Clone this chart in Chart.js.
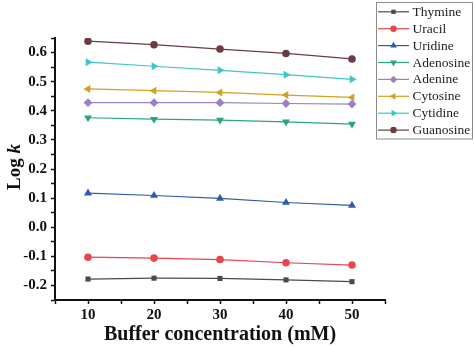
<!DOCTYPE html>
<html>
<head>
<meta charset="utf-8">
<script src="https://cdn.jsdelivr.net/npm/chart.js@4.4.1/dist/chart.umd.min.js"></script>
<style>
  html, body { margin:0; padding:0; background:#fff; }
  canvas { display:block; }
</style>
</head>
<body>
<canvas id="c" width="474" height="347"></canvas>
<script>
// buffer concentration (mM)
const concentrations = [10, 20, 30, 40, 50];

// Log k values per analyte
const thymine   = [-0.178, -0.175, -0.176, -0.181, -0.187];
const uracil    = [-0.103, -0.106, -0.111, -0.122, -0.130];
const uridine   = [0.117, 0.109, 0.099, 0.085, 0.075];
const adenosine = [0.376, 0.371, 0.368, 0.362, 0.354];
const adenine   = [0.428, 0.428, 0.428, 0.425, 0.423];
const cytosine  = [0.475, 0.469, 0.463, 0.454, 0.446];
const cytidine  = [0.567, 0.553, 0.539, 0.524, 0.508];
const guanosine = [0.639, 0.627, 0.612, 0.597, 0.578];

const xTicks = [10, 20, 30, 40, 50];
const yTicks = [-0.2, -0.1, 0.0, 0.1, 0.2, 0.3, 0.4, 0.5, 0.6];

const FONT = '"Liberation Serif", "Times New Roman", serif';

const series = [
  { label: "Thymine",   data: thymine,   color: "#4a4a4a", style: "rect",     rot: 0,   r: 3.6 },
  { label: "Uracil",    data: uracil,    color: "#e8454e", style: "circle",   rot: 0,   r: 3.8 },
  { label: "Uridine",   data: uridine,   color: "#2f5ca8", style: "triangle", rot: 0,   r: 4.6 },
  { label: "Adenosine", data: adenosine, color: "#2aa77a", style: "triangle", rot: 180, r: 4.6 },
  { label: "Adenine",   data: adenine,   color: "#9a80c4", style: "rectRot",  rot: 0,   r: 4.4 },
  { label: "Cytosine",  data: cytosine,  color: "#d2a024", style: "triangle", rot: -90, r: 4.6 },
  { label: "Cytidine",  data: cytidine,  color: "#3ec6c6", style: "triangle", rot: 90,  r: 4.6 },
  { label: "Guanosine", data: guanosine, color: "#6b3d40", style: "circle",   rot: 0,   r: 3.8 }
];

const datasets = series.map(s => ({
  label: s.label,
  data: concentrations.map((x, i) => ({ x, y: s.data[i] })),
  borderColor: s.color,
  backgroundColor: s.color,
  borderWidth: 1.2,
  pointStyle: s.style,
  rotation: s.rot,
  pointRadius: s.r,
  pointBorderWidth: 0,
  tension: 0
}));

// boxed legend in the top-right corner, drawn over the plot like the original
const boxedLegend = {
  id: "boxedLegend",
  afterDraw(chart) {
    const ctx = chart.ctx;
    ctx.save();
    ctx.strokeStyle = "#8c8c8c";
    ctx.lineWidth = 1;
    ctx.fillStyle = "#fff";
    ctx.fillRect(376, 2, 97, 137);
    ctx.strokeRect(376.5, 2.5, 96, 136.5);
    const y0 = 11.8, step = 16.9;
    chart.data.datasets.forEach((ds, i) => {
      const y = y0 + i * step;
      ctx.strokeStyle = ds.borderColor;
      ctx.lineWidth = 1.2;
      ctx.beginPath();
      ctx.moveTo(378, y); ctx.lineTo(409, y);
      ctx.stroke();
      ctx.fillStyle = ds.backgroundColor;
      if (Chart.helpers && Chart.helpers.drawPoint) {
        Chart.helpers.drawPoint(ctx, { pointStyle: ds.pointStyle, rotation: ds.rotation, radius: ds.pointRadius * 0.85, borderWidth: 0 }, 393.5, y);
      } else {
        ctx.beginPath(); ctx.arc(393.5, y, 3, 0, Math.PI * 2); ctx.fill();
      }
      ctx.fillStyle = "#222";
      ctx.font = "13.5px " + FONT;
      ctx.textBaseline = "middle";
      ctx.textAlign = "left";
      ctx.fillText(ds.label, 412.5, y + 0.5);
    });
    ctx.restore();
  }
};

// y title "Log k" with italic k
const yTitle = {
  id: "yTitle",
  afterDraw(chart) {
    const ctx = chart.ctx;
    ctx.save();
    ctx.translate(15, 167);
    ctx.rotate(-Math.PI / 2);
    ctx.fillStyle = "#111";
    ctx.textBaseline = "middle";
    const a = "Log ", b = "k";
    ctx.font = "bold 19px " + FONT;
    const wa = ctx.measureText(a).width;
    ctx.font = "italic bold 19px " + FONT;
    const wb = ctx.measureText(b).width;
    const start = -(wa + wb) / 2;
    ctx.font = "bold 19px " + FONT;
    ctx.textAlign = "left";
    ctx.fillText(a, start, 0);
    ctx.font = "italic bold 19px " + FONT;
    ctx.fillText(b, start + wa, 0);
    ctx.restore();
  }
};

new Chart(document.getElementById("c"), {
  type: "line",
  data: { datasets },
  options: {
    responsive: false,
    animation: false,
    devicePixelRatio: 1,
    layout: { padding: { top: 38, right: 89, left: 0, bottom: 0 } },
    plugins: {
      legend: { display: false },
      tooltip: { enabled: false }
    },
    scales: {
      x: {
        type: "linear",
        min: 5, max: 55,
        afterFit: s => { s.height = 47; },
        afterBuildTicks: s => {
          const t = [];
          for (let v = 5; v <= 55; v += 5) t.push({ value: v });
          s.ticks = t;
        },
        ticks: {
          color: "#111",
          font: { family: FONT, size: 15, weight: "bold" },
          padding: 2,
          maxRotation: 0,
          autoSkip: false,
          callback: v => xTicks.includes(v) ? String(v) : ""
        },
        grid: {
          drawOnChartArea: false,
          tickLength: 4,
          tickColor: "#111",
          tickWidth: 1.5
        },
        border: { color: "#111", width: 2 },
        title: {
          display: true,
          text: "Buffer concentration (mM)",
          color: "#111",
          font: { family: FONT, size: 20, weight: "bold" },
          padding: { top: 0, bottom: 0 }
        }
      },
      y: {
        type: "linear",
        min: -0.25, max: 0.65,
        afterFit: s => { s.width = 55; },
        afterBuildTicks: s => {
          const t = [];
          for (let k = -5; k <= 13; k++) t.push({ value: Math.round(k * 5) / 100 });
          s.ticks = t;
        },
        ticks: {
          color: "#111",
          font: { family: FONT, size: 15, weight: "bold" },
          padding: 4,
          autoSkip: false,
          callback: v => yTicks.some(t => Math.abs(t - v) < 1e-6) ? v.toFixed(1) : ""
        },
        grid: {
          drawOnChartArea: false,
          tickLength: 4,
          tickColor: "#111",
          tickWidth: 1.5
        },
        border: { color: "#111", width: 2 }
      }
    }
  },
  plugins: [yTitle, boxedLegend]
});
</script>
</body>
</html>
